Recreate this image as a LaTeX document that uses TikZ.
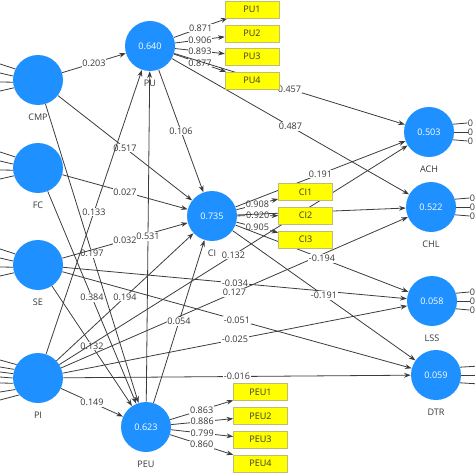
\documentclass[tikz,border=0pt]{standalone}
\usepackage{fontspec}
\setmainfont{Open Sans}
\usepackage{xcolor}
\usepackage{tikz}
\usetikzlibrary{arrows.meta}

\pgfdeclarelayer{edges}
\pgfsetlayers{edges,main}

\definecolor{lvblue}{RGB}{30,144,255}
\definecolor{mvyellow}{RGB}{255,255,0}
\definecolor{mvborder}{RGB}{190,190,110}
\definecolor{linegray}{RGB}{60,60,60}
\definecolor{textgray}{RGB}{55,55,55}
\newcommand{\plsfont}{\fontsize{6.8}{7.5}\selectfont}

\begin{document}
\begin{tikzpicture}[x=0.75pt,y=0.75pt,yscale=-1,xscale=1,
  lv/.style={circle, fill=lvblue, minimum size=37.5pt, inner sep=0pt,
    text=white, font=\plsfont},
  lvname/.style={font=\plsfont, text=textgray, inner sep=0pt,
    label distance=6.5pt},
  mv/.style={rectangle, fill=mvyellow, draw=mvborder, line width=0.4pt,
    minimum width=40.5pt, minimum height=12.75pt, inner sep=0pt,
    text=textgray, font=\plsfont},
  coef/.style={fill=white, inner sep=0.6pt, text=textgray, font=\plsfont},
  relarrow/.style={draw=linegray, line width=0.6pt,
    -{Stealth[length=5pt,width=3.6pt]}},
  stub/.style={draw=linegray, line width=0.6pt}]
\useasboundingbox (0,0) rectangle (474,474);

%Shape: Circle [CMP]
\node (CMP) at (38,80) [lv, label={[lvname]below:CMP}] {};
%Shape: Circle [FC]
\node (FC) at (38,168) [lv, label={[lvname]below:FC}] {};
%Shape: Circle [SE]
\node (SE) at (38,265) [lv, label={[lvname]below:SE}] {};
%Shape: Circle [PI]
\node (PI) at (38,378) [lv, label={[lvname]below:PI}] {};
%Shape: Circle [PU]
\node (PU) at (150,46) [lv, label={[lvname]below:PU}] {0.640};
%Shape: Circle [CI]
\node (CI) at (212,216) [lv, label={[lvname]below:CI}] {0.735};
%Shape: Circle [PEU]
\node (PEU) at (146,427) [lv, label={[lvname]below:PEU}] {0.623};
%Shape: Circle [ACH]
\node (ACH) at (429,132) [lv, label={[lvname]below:ACH}] {0.503};
%Shape: Circle [CHL]
\node (CHL) at (431,207) [lv, label={[lvname]below:CHL}] {0.522};
%Shape: Circle [LSS]
\node (LSS) at (432,301) [lv, label={[lvname]below:LSS}] {0.058};
%Shape: Circle [DTR]
\node (DTR) at (436,375) [lv, label={[lvname]below:DTR}] {0.059};

%Shape: Rectangle [PU items]
\node (PU1) at (252,9.5) [mv] {PU1};
\node (PU2) at (252,33.5) [mv] {PU2};
\node (PU3) at (252,56.5) [mv] {PU3};
\node (PU4) at (252,80.5) [mv] {PU4};
%Shape: Rectangle [CI items]
\node (CI1) at (305.5,192) [mv] {CI1};
\node (CI2) at (305.5,215.5) [mv] {CI2};
\node (CI3) at (305.5,239.5) [mv] {CI3};
%Shape: Rectangle [PEU items]
\node (PEU1) at (260.5,392) [mv] {PEU1};
\node (PEU2) at (260.5,416) [mv] {PEU2};
\node (PEU3) at (260.5,439.5) [mv] {PEU3};
\node (PEU4) at (260.5,463.5) [mv] {PEU4};

\begin{pgfonlayer}{edges}
%Straight Lines [indicators, left edge]
\foreach \n/\cy in {CMP/80,FC/168,SE/265}
  \foreach \a/\dy in {154/-16,171/-7,185/2,198/11}
    \draw[stub] (0,\cy+\dy) -- (\n.\a);
\foreach \a/\dy in {148/-18,160/-11,170/-6,180/-1,192/5,207/14,222/22}
  \draw[stub] (0,378+\dy) -- (PI.\a);
%Straight Lines [indicators, right edge]
\foreach \n/\cy/\tx in {ACH/132/467.5,CHL/207/469.5,LSS/301/469.5}
  \foreach \a/\dy/\k in {18/-9/1,0/0/2,-18/9/3} {
    \draw[stub] (\n.\a) -- (\tx,\cy+\dy);
    \node (\n-item\k) at (\tx,\cy+\dy) [anchor=west, inner sep=0pt,
      text=textgray, font=\plsfont] {0};
  }
\foreach \a/\dy in {18/-9,0/0,-18/9}
  \draw[stub] (DTR.\a) -- (480,375+\dy);

%Straight Lines [outer loadings]
\draw[relarrow] (PU) -- node[coef] {0.871} (PU1);
\draw[relarrow] (PU) -- node[coef] {0.906} (PU2);
\draw[relarrow] (PU) -- node[coef] {0.893} (PU3);
\draw[relarrow] (PU) -- node[coef] {0.877} (PU4);
\draw[relarrow] (CI) -- node[coef] {0.908} (CI1);
\draw[relarrow] (CI) -- node[coef] {0.920} (CI2);
\draw[relarrow] (CI) -- node[coef] {0.905} (CI3);
\draw[relarrow] (PEU) -- node[coef] {0.863} (PEU1);
\draw[relarrow] (PEU) -- node[coef] {0.886} (PEU2);
\draw[relarrow] (PEU) -- node[coef] {0.799} (PEU3);
\draw[relarrow] (PEU) -- node[coef] {0.860} (PEU4);

%Straight Lines [paths]
\draw[relarrow] (CMP) -- node[coef] {0.203} (PU);
\draw[relarrow] (CMP) -- node[coef] {0.517} (CI);
\draw[relarrow] (CMP) -- node[coef] {0.197} (PEU);
\draw[relarrow] (FC) -- node[coef] {0.027} (CI);
\draw[relarrow] (FC) -- node[coef] {0.384} (PEU);
\draw[relarrow] (SE) -- node[coef] {0.032} (CI);
\draw[relarrow] (SE) -- node[coef] {0.132} (PEU);
\draw[relarrow] (SE) -- node[coef] {-0.034} (LSS);
\draw[relarrow] (SE) -- node[coef] {-0.051} (DTR);
\draw[relarrow] (PI) -- node[coef] {0.133} (PU);
\draw[relarrow] (PI) -- node[coef] {0.194} (CI);
\draw[relarrow] (PI) -- node[coef] {0.149} (PEU);
\draw[relarrow] (PI) -- node[coef] {0.132} (ACH);
\draw[relarrow] (PI) -- node[coef] {0.127} (CHL);
\draw[relarrow] (PI) -- node[coef] {-0.025} (LSS);
\draw[relarrow] (PI) -- node[coef] {-0.016} (DTR);
\draw[relarrow] (PEU) -- node[coef] {0.531} (PU);
\draw[relarrow] (PEU) -- node[coef] {0.054} (CI);
\draw[relarrow] (PU) -- node[coef] {0.106} (CI);
\draw[relarrow] (PU) -- node[coef] {0.457} (ACH);
\draw[relarrow] (PU) -- node[coef] {0.487} (CHL);
\draw[relarrow] (CI) -- node[coef] {0.191} (ACH);
\draw[relarrow] (CI) -- (CHL);
\draw[relarrow] (CI) -- node[coef] {-0.194} (LSS);
\draw[relarrow] (CI) -- node[coef] {-0.191} (DTR);
\end{pgfonlayer}

\end{tikzpicture}
\end{document}
